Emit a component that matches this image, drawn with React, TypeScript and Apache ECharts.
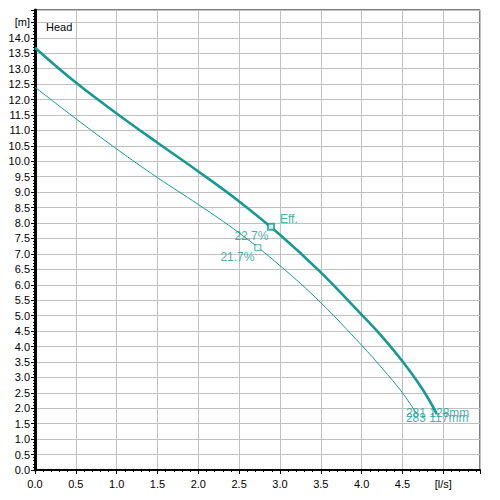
import React, { useEffect, useRef } from "react";
import * as echarts from "echarts";

const TEAL = "#159a92";

const bigImpeller: [number, number][] = [
  [0, 13.68], [0.5, 12.55], [1.0, 11.55], [1.5, 10.6], [2.0, 9.67], [2.5, 8.7],
  [3.0, 7.62], [3.5, 6.4], [4.0, 5.03], [4.25, 4.32], [4.5, 3.52], [4.75, 2.6], [4.92, 1.82],
];

const smallImpeller: [number, number][] = [
  [0, 12.4], [0.5, 11.38], [1.0, 10.4], [1.5, 9.47], [2.0, 8.6], [2.5, 7.68],
  [3.0, 6.62], [3.5, 5.42], [4.0, 4.04], [4.25, 3.3], [4.5, 2.5], [4.68, 1.8],
];

const effPointBig: [number, number] = [2.89, 7.88];
const effPointSmall: [number, number] = [2.73, 7.2];
const effLabels = ["Eff.", "22.7%", "21.7%"];
const endLabels = ["281 128mm", "283 117mm"];
const endLabelAnchors: [number, number][] = [[4.5, 1.86], [4.5, 1.68]];
const xUnit = "[l/s]";
const yUnit = "[m]";

const FONT = "Liberation Sans, Arial, sans-serif";
const CLEAR = "rgba(0,0,0,0)";

export default function App() {
  const ref = useRef<HTMLDivElement>(null);
  useEffect(() => {
    if (!ref.current) return;
    const chart = echarts.init(ref.current, null, { renderer: "svg" });
    const labelBase = { show: true, color: TEAL, fontFamily: FONT, fontSize: 12 };
    chart.setOption({
      animation: false,
      backgroundColor: "#ffffff",
      grid: { left: 35, right: 20, top: 10, bottom: 30, show: true, borderColor: "#000", borderWidth: 1 },
      xAxis: {
        type: "value",
        min: 0,
        max: 5.45,
        interval: 0.5,
        axisLine: { onZero: false, lineStyle: { color: "#000", width: 2 } },
        axisTick: { show: true, length: 4, lineStyle: { color: "#000" } },
        minorTick: { show: true, splitNumber: 5, length: 2, lineStyle: { color: "#000" } },
        splitLine: { show: true, lineStyle: { color: "#c0c0c0", width: 1 } },
        axisLabel: {
          color: "#000",
          fontFamily: FONT,
          fontSize: 11,
          margin: 8,
          showMaxLabel: false,
          formatter: (v: number) => (Math.abs(v - 5) < 1e-6 ? xUnit : v.toFixed(1)),
        },
      },
      yAxis: [
        {
          type: "value",
          min: 0,
          max: 14.9,
          interval: 0.5,
          axisLine: { show: true, onZero: false, lineStyle: { color: "#000", width: 2 } },
          axisTick: { show: true, length: 4, lineStyle: { color: "#000" } },
          minorTick: { show: true, splitNumber: 5, length: 2, lineStyle: { color: "#000" } },
          splitLine: { show: true, lineStyle: { color: "#c0c0c0", width: 1 } },
          axisLabel: {
            color: "#000",
            fontFamily: FONT,
            fontSize: 11,
            margin: 5,
            showMaxLabel: false,
            formatter: (v: number) => (Math.abs(v - 14.5) < 1e-6 ? yUnit : v.toFixed(1)),
          },
        },
        {
          type: "value",
          position: "right",
          min: 0,
          max: 14.9,
          interval: 0.5,
          axisLine: { show: true, lineStyle: { color: "#000", width: 3 } },
          axisTick: { show: false },
          axisLabel: { show: false },
          splitLine: { show: false },
        },
      ],
      graphic: [
        {
          type: "text",
          left: 46,
          top: 21,
          style: { text: "Head", fill: "#000", font: `11px ${FONT}` },
        },
      ],
      series: [
        {
          type: "line",
          data: smallImpeller,
          smooth: 0.4,
          showSymbol: false,
          lineStyle: { color: TEAL, width: 1 },
        },
        {
          type: "line",
          data: bigImpeller,
          smooth: 0.4,
          showSymbol: false,
          lineStyle: { color: TEAL, width: 2.6 },
        },
        {
          type: "scatter",
          data: [effPointBig],
          symbol: "rect",
          symbolSize: 6,
          itemStyle: { color: "#fff", borderColor: TEAL, borderWidth: 2 },
          label: { ...labelBase, position: "right", offset: [0, -8], formatter: effLabels[0] },
          z: 5,
        },
        {
          type: "scatter",
          data: [effPointBig],
          symbol: "circle",
          symbolSize: 1,
          itemStyle: { color: CLEAR },
          label: { ...labelBase, position: "left", offset: [3, 9], formatter: effLabels[1] },
          z: 5,
        },
        {
          type: "scatter",
          data: [effPointSmall],
          symbol: "rect",
          symbolSize: 6,
          itemStyle: { color: "#fff", borderColor: TEAL, borderWidth: 1 },
          label: { ...labelBase, position: "left", offset: [5, 9], formatter: effLabels[2] },
          z: 5,
        },
        {
          type: "scatter",
          data: endLabelAnchors.map((p, i) => ({ value: p, name: endLabels[i] })),
          symbol: "circle",
          symbolSize: 1,
          itemStyle: { color: CLEAR },
          label: { ...labelBase, position: "right", distance: 3, formatter: (p: any) => p.name },
          z: 5,
        },
      ],
    });
    return () => chart.dispose();
  }, []);
  return <div ref={ref} style={{ width: 500, height: 500, margin: -8 }} />;
}
